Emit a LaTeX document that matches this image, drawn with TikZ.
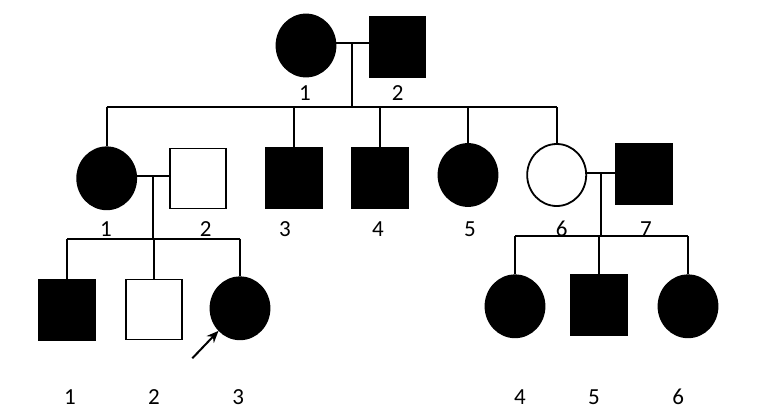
\documentclass[tikz,border=0pt]{standalone}
\usepackage{fontspec}
\setmainfont{Carlito}
\usetikzlibrary{shapes.geometric,arrows.meta}
\begin{document}
\begin{tikzpicture}[x=1pt,y=-1pt,
  person/.style={line width=1.8pt,inner sep=0pt,draw=black},
  fem/.style={person,ellipse,minimum width=59pt,minimum height=62pt},
  mal/.style={person,rectangle,minimum width=56pt,minimum height=60pt},
  aff/.style={fill=black},
  una/.style={fill=white},
  lnk/.style={line width=2pt},
  lbl/.style={inner sep=0pt,font=\fontsize{23}{27}\selectfont}]
\useasboundingbox[fill=white] (0,0) rectangle (780,416);

% Generation I
\node[fem,aff] (I1) at (306,45.5) {};
\node[mal,aff] (I2) at (397.5,46.7) {};
\node[lbl] (lI1) at (305,93) {1};
\node[lbl] (lI2) at (397.7,93) {2};
\coordinate (m1) at (351.7,43.3);
\coordinate (s2) at (351.7,107);

% Generation II
\node[fem,aff] (II1) at (106.7,178.3) {};
\node[mal,una] (II2) at (198,178.5) {};
\node[mal,aff] (II3) at (294,178) {};
\node[mal,aff] (II4) at (380,178) {};
\node[fem,aff] (II5) at (468,175) {};
\node[fem,una] (II6) at (556.7,175) {};
\node[mal,aff] (II7) at (644,174) {};
\foreach \n/\x in {1/106,2/205.7,3/285,4/378,5/470,6/561.7,7/646}
  \node[lbl] (lII\n) at (\x,229) {\n};
\coordinate (m2) at (153.3,176);
\coordinate (s3a) at (153.3,238.5);
\coordinate (m3) at (601,173.3);
\coordinate (s3b) at (601,236);

% Generation III
\node[mal,aff] (III1) at (67,310.3) {};
\node[mal,una] (III2) at (154,309.5) {};
\node[fem,aff] (III3) at (240,308.3) {};
\node[fem,aff] (III4) at (515,306.3) {};
\node[mal,aff] (III5) at (598.8,305) {};
\node[fem,aff] (III6) at (688,306.3) {};
\foreach \n/\x in {1/70,2/154,3/238.3,4/520,5/594,6/678.3}
  \node[lbl] (lIII\n) at (\x,396.7) {\n};

% Connectors
\draw[lnk] (I1.east |- m1) -- (I2.west |- m1);
\draw[lnk] (m1) -- (s2);
\draw[lnk] (II1.north |- s2) -- (II6.north |- s2);
\foreach \c in {II1,II3,II4,II5,II6}
  \draw[lnk] (\c.north |- s2) -- (\c.north);

\draw[lnk] (II1.east |- m2) -- (II2.west |- m2);
\draw[lnk] (m2) -- (s3a);
\draw[lnk] (III1.north |- s3a) -- (III3.north |- s3a);
\foreach \c in {III1,III2,III3}
  \draw[lnk] (\c.north |- s3a) -- (\c.north);

\draw[lnk] (II6.east |- m3) -- (II7.west |- m3);
\draw[lnk] (m3) -- (s3b);
\draw[lnk] (III4.north |- s3b) -- (III6.north |- s3b);
\foreach \c in {III4,III5,III6}
  \draw[lnk] (\c.north |- s3b) -- (\c.north);

% Proband arrow
\coordinate (arrtail) at (192.3,358.3);
\draw[line width=2pt,-{Stealth[length=12pt,width=10pt]}] (arrtail) -- (III3.south west);
\end{tikzpicture}
\end{document}
